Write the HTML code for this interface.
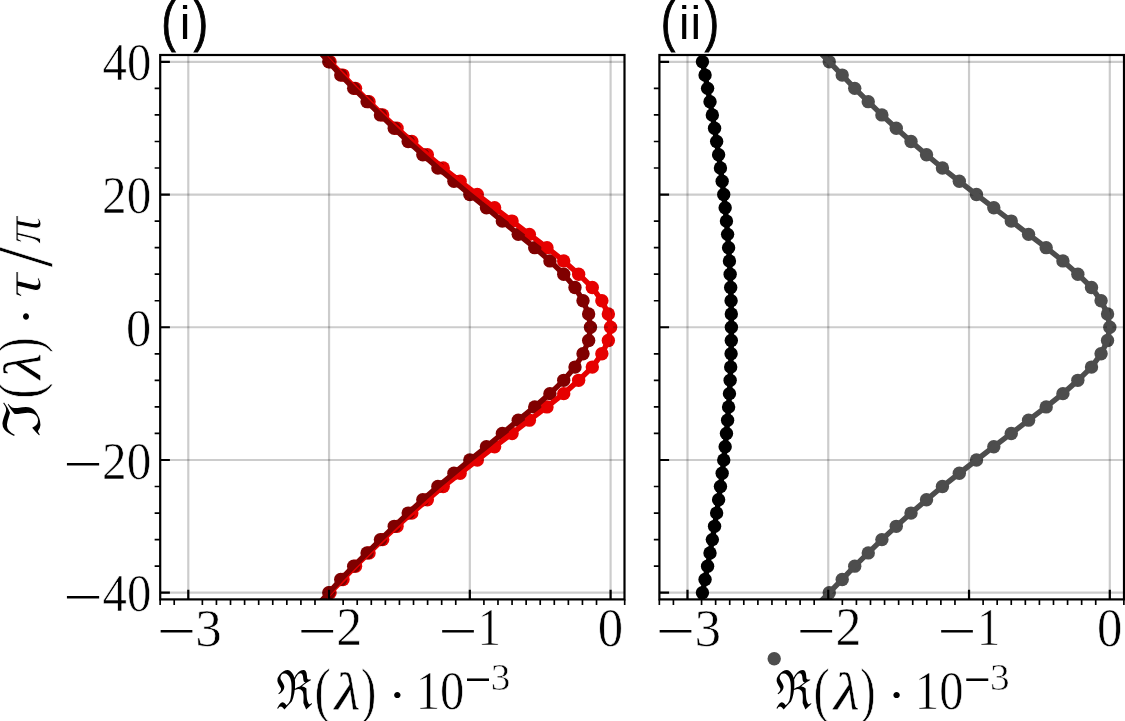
<!DOCTYPE html>
<html><head><meta charset="utf-8"><title>Spectrum plot</title>
<style>html,body{margin:0;padding:0;background:#fff;width:1125px;height:721px;overflow:hidden}svg{display:block}</style>
</head><body>
<svg width="1125" height="721" viewBox="0 0 1125 721">
<defs>
<clipPath id="c0"><rect x="160.2" y="55.0" width="464.3" height="544.4"/></clipPath>
<clipPath id="c1"><rect x="659.4" y="55.0" width="464.6" height="544.4"/></clipPath>
</defs>
<rect width="1125" height="721" fill="#fff"/>
<g clip-path="url(#c0)"><g fill="#e60000"><circle cx="304.14" cy="35.29" r="6.7"/><circle cx="317.09" cy="48.56" r="6.7"/><circle cx="330.05" cy="61.83" r="6.7"/><circle cx="343" cy="75.1" r="6.7"/><circle cx="355.52" cy="88.37" r="6.7"/><circle cx="369.04" cy="101.65" r="6.7"/><circle cx="382.69" cy="114.92" r="6.7"/><circle cx="397.05" cy="128.19" r="6.7"/><circle cx="411.83" cy="141.46" r="6.7"/><circle cx="427.32" cy="154.73" r="6.7"/><circle cx="443.22" cy="168.01" r="6.7"/><circle cx="460.12" cy="181.28" r="6.7"/><circle cx="477.29" cy="194.55" r="6.7"/><circle cx="494.61" cy="207.82" r="6.7"/><circle cx="512.06" cy="221.09" r="6.7"/><circle cx="529.38" cy="234.37" r="6.7"/><circle cx="546.97" cy="247.64" r="6.7"/><circle cx="563.72" cy="260.91" r="6.7"/><circle cx="578.65" cy="274.18" r="6.7"/><circle cx="592.3" cy="287.45" r="6.7"/><circle cx="601.87" cy="300.73" r="6.7"/><circle cx="608.35" cy="314" r="6.7"/><circle cx="610.6" cy="327.27" r="6.7"/><circle cx="608.35" cy="340.54" r="6.7"/><circle cx="601.87" cy="353.81" r="6.7"/><circle cx="592.3" cy="367.09" r="6.7"/><circle cx="578.65" cy="380.36" r="6.7"/><circle cx="563.72" cy="393.63" r="6.7"/><circle cx="546.97" cy="406.9" r="6.7"/><circle cx="529.38" cy="420.17" r="6.7"/><circle cx="512.06" cy="433.45" r="6.7"/><circle cx="494.61" cy="446.72" r="6.7"/><circle cx="477.29" cy="459.99" r="6.7"/><circle cx="460.12" cy="473.26" r="6.7"/><circle cx="443.22" cy="486.53" r="6.7"/><circle cx="427.32" cy="499.81" r="6.7"/><circle cx="411.83" cy="513.08" r="6.7"/><circle cx="397.05" cy="526.35" r="6.7"/><circle cx="382.69" cy="539.62" r="6.7"/><circle cx="369.04" cy="552.89" r="6.7"/><circle cx="355.52" cy="566.17" r="6.7"/><circle cx="343" cy="579.44" r="6.7"/><circle cx="330.05" cy="592.71" r="6.7"/><circle cx="317.09" cy="605.98" r="6.7"/><circle cx="304.14" cy="619.25" r="6.7"/></g><g fill="#800000"><circle cx="304.85" cy="35.29" r="6.7"/><circle cx="316.81" cy="48.56" r="6.7"/><circle cx="328.78" cy="61.83" r="6.7"/><circle cx="340.74" cy="75.1" r="6.7"/><circle cx="353.69" cy="88.37" r="6.7"/><circle cx="367.07" cy="101.65" r="6.7"/><circle cx="380.44" cy="114.92" r="6.7"/><circle cx="394.24" cy="128.19" r="6.7"/><circle cx="408.17" cy="141.46" r="6.7"/><circle cx="422.81" cy="154.73" r="6.7"/><circle cx="437.88" cy="168.01" r="6.7"/><circle cx="453.92" cy="181.28" r="6.7"/><circle cx="469.83" cy="194.55" r="6.7"/><circle cx="486.44" cy="207.82" r="6.7"/><circle cx="502.35" cy="221.09" r="6.7"/><circle cx="518.25" cy="234.37" r="6.7"/><circle cx="534.72" cy="247.64" r="6.7"/><circle cx="549.93" cy="260.91" r="6.7"/><circle cx="563.72" cy="274.18" r="6.7"/><circle cx="574.99" cy="287.45" r="6.7"/><circle cx="583.01" cy="300.73" r="6.7"/><circle cx="588.64" cy="314" r="6.7"/><circle cx="590.47" cy="327.27" r="6.7"/><circle cx="588.64" cy="340.54" r="6.7"/><circle cx="583.01" cy="353.81" r="6.7"/><circle cx="574.99" cy="367.09" r="6.7"/><circle cx="563.72" cy="380.36" r="6.7"/><circle cx="549.93" cy="393.63" r="6.7"/><circle cx="534.72" cy="406.9" r="6.7"/><circle cx="518.25" cy="420.17" r="6.7"/><circle cx="502.35" cy="433.45" r="6.7"/><circle cx="486.44" cy="446.72" r="6.7"/><circle cx="469.83" cy="459.99" r="6.7"/><circle cx="453.92" cy="473.26" r="6.7"/><circle cx="437.88" cy="486.53" r="6.7"/><circle cx="422.81" cy="499.81" r="6.7"/><circle cx="408.17" cy="513.08" r="6.7"/><circle cx="394.24" cy="526.35" r="6.7"/><circle cx="380.44" cy="539.62" r="6.7"/><circle cx="367.07" cy="552.89" r="6.7"/><circle cx="353.69" cy="566.17" r="6.7"/><circle cx="340.74" cy="579.44" r="6.7"/><circle cx="328.78" cy="592.71" r="6.7"/><circle cx="316.81" cy="605.98" r="6.7"/><circle cx="304.85" cy="619.25" r="6.7"/></g></g>
<g clip-path="url(#c1)"><g fill="#000"><circle cx="697.19" cy="35.29" r="6.7"/><circle cx="699.82" cy="48.56" r="6.7"/><circle cx="702.44" cy="61.83" r="6.7"/><circle cx="705.06" cy="75.1" r="6.7"/><circle cx="707.59" cy="88.37" r="6.7"/><circle cx="710.02" cy="101.65" r="6.7"/><circle cx="712.34" cy="114.92" r="6.7"/><circle cx="714.55" cy="128.19" r="6.7"/><circle cx="716.64" cy="141.46" r="6.7"/><circle cx="718.61" cy="154.73" r="6.7"/><circle cx="720.45" cy="168.01" r="6.7"/><circle cx="722.16" cy="181.28" r="6.7"/><circle cx="723.73" cy="194.55" r="6.7"/><circle cx="725.16" cy="207.82" r="6.7"/><circle cx="726.46" cy="221.09" r="6.7"/><circle cx="727.6" cy="234.37" r="6.7"/><circle cx="728.6" cy="247.64" r="6.7"/><circle cx="729.45" cy="260.91" r="6.7"/><circle cx="730.15" cy="274.18" r="6.7"/><circle cx="730.69" cy="287.45" r="6.7"/><circle cx="731.08" cy="300.73" r="6.7"/><circle cx="731.31" cy="314" r="6.7"/><circle cx="731.39" cy="327.27" r="6.7"/><circle cx="731.31" cy="340.54" r="6.7"/><circle cx="731.08" cy="353.81" r="6.7"/><circle cx="730.69" cy="367.09" r="6.7"/><circle cx="730.15" cy="380.36" r="6.7"/><circle cx="729.45" cy="393.63" r="6.7"/><circle cx="728.6" cy="406.9" r="6.7"/><circle cx="727.6" cy="420.17" r="6.7"/><circle cx="726.46" cy="433.45" r="6.7"/><circle cx="725.16" cy="446.72" r="6.7"/><circle cx="723.73" cy="459.99" r="6.7"/><circle cx="722.16" cy="473.26" r="6.7"/><circle cx="720.45" cy="486.53" r="6.7"/><circle cx="718.61" cy="499.81" r="6.7"/><circle cx="716.64" cy="513.08" r="6.7"/><circle cx="714.55" cy="526.35" r="6.7"/><circle cx="712.34" cy="539.62" r="6.7"/><circle cx="710.02" cy="552.89" r="6.7"/><circle cx="707.59" cy="566.17" r="6.7"/><circle cx="705.06" cy="579.44" r="6.7"/><circle cx="702.44" cy="592.71" r="6.7"/><circle cx="699.82" cy="605.98" r="6.7"/><circle cx="697.19" cy="619.25" r="6.7"/></g><g fill="#4d4d4d"><circle cx="803.34" cy="35.29" r="6.7"/><circle cx="816.29" cy="48.56" r="6.7"/><circle cx="829.25" cy="61.83" r="6.7"/><circle cx="842.2" cy="75.1" r="6.7"/><circle cx="854.72" cy="88.37" r="6.7"/><circle cx="868.24" cy="101.65" r="6.7"/><circle cx="881.89" cy="114.92" r="6.7"/><circle cx="896.25" cy="128.19" r="6.7"/><circle cx="911.03" cy="141.46" r="6.7"/><circle cx="926.52" cy="154.73" r="6.7"/><circle cx="942.42" cy="168.01" r="6.7"/><circle cx="959.32" cy="181.28" r="6.7"/><circle cx="976.49" cy="194.55" r="6.7"/><circle cx="993.81" cy="207.82" r="6.7"/><circle cx="1011.26" cy="221.09" r="6.7"/><circle cx="1028.58" cy="234.37" r="6.7"/><circle cx="1046.17" cy="247.64" r="6.7"/><circle cx="1062.92" cy="260.91" r="6.7"/><circle cx="1077.85" cy="274.18" r="6.7"/><circle cx="1091.5" cy="287.45" r="6.7"/><circle cx="1101.07" cy="300.73" r="6.7"/><circle cx="1107.55" cy="314" r="6.7"/><circle cx="1109.8" cy="327.27" r="6.7"/><circle cx="1107.55" cy="340.54" r="6.7"/><circle cx="1101.07" cy="353.81" r="6.7"/><circle cx="1091.5" cy="367.09" r="6.7"/><circle cx="1077.85" cy="380.36" r="6.7"/><circle cx="1062.92" cy="393.63" r="6.7"/><circle cx="1046.17" cy="406.9" r="6.7"/><circle cx="1028.58" cy="420.17" r="6.7"/><circle cx="1011.26" cy="433.45" r="6.7"/><circle cx="993.81" cy="446.72" r="6.7"/><circle cx="976.49" cy="459.99" r="6.7"/><circle cx="959.32" cy="473.26" r="6.7"/><circle cx="942.42" cy="486.53" r="6.7"/><circle cx="926.52" cy="499.81" r="6.7"/><circle cx="911.03" cy="513.08" r="6.7"/><circle cx="896.25" cy="526.35" r="6.7"/><circle cx="881.89" cy="539.62" r="6.7"/><circle cx="868.24" cy="552.89" r="6.7"/><circle cx="854.72" cy="566.17" r="6.7"/><circle cx="842.2" cy="579.44" r="6.7"/><circle cx="829.25" cy="592.71" r="6.7"/><circle cx="816.29" cy="605.98" r="6.7"/><circle cx="803.34" cy="619.25" r="6.7"/></g></g>
<g stroke="#000" stroke-opacity="0.2" stroke-width="2.2" fill="none"><path d="M188.29 55.0V599.4"/><path d="M329.06 55.0V599.4"/><path d="M469.83 55.0V599.4"/><path d="M610.6 55.0V599.4"/><path d="M160.2 592.71H624.5"/><path d="M160.2 459.99H624.5"/><path d="M160.2 327.27H624.5"/><path d="M160.2 194.55H624.5"/><path d="M160.2 61.83H624.5"/></g><g stroke="#000" stroke-opacity="0.2" stroke-width="2.2" fill="none"><path d="M687.49 55.0V599.4"/><path d="M828.26 55.0V599.4"/><path d="M969.03 55.0V599.4"/><path d="M1109.8 55.0V599.4"/><path d="M659.4 592.71H1124.0"/><path d="M659.4 459.99H1124.0"/><path d="M659.4 327.27H1124.0"/><path d="M659.4 194.55H1124.0"/><path d="M659.4 61.83H1124.0"/></g>
<g clip-path="url(#c0)"><polyline points="304.14,35.29 317.09,48.56 330.05,61.83 343,75.1 355.52,88.37 369.04,101.65 382.69,114.92 397.05,128.19 411.83,141.46 427.32,154.73 443.22,168.01 460.12,181.28 477.29,194.55 494.61,207.82 512.06,221.09 529.38,234.37 546.97,247.64 563.72,260.91 578.65,274.18 592.3,287.45 601.87,300.73 608.35,314 610.6,327.27 608.35,340.54 601.87,353.81 592.3,367.09 578.65,380.36 563.72,393.63 546.97,406.9 529.38,420.17 512.06,433.45 494.61,446.72 477.29,459.99 460.12,473.26 443.22,486.53 427.32,499.81 411.83,513.08 397.05,526.35 382.69,539.62 369.04,552.89 355.52,566.17 343,579.44 330.05,592.71 317.09,605.98 304.14,619.25" fill="none" stroke="#e60000" stroke-width="5.4" stroke-linejoin="round" stroke-linecap="butt"/><polyline points="304.85,35.29 316.81,48.56 328.78,61.83 340.74,75.1 353.69,88.37 367.07,101.65 380.44,114.92 394.24,128.19 408.17,141.46 422.81,154.73 437.88,168.01 453.92,181.28 469.83,194.55 486.44,207.82 502.35,221.09 518.25,234.37 534.72,247.64 549.93,260.91 563.72,274.18 574.99,287.45 583.01,300.73 588.64,314 590.47,327.27 588.64,340.54 583.01,353.81 574.99,367.09 563.72,380.36 549.93,393.63 534.72,406.9 518.25,420.17 502.35,433.45 486.44,446.72 469.83,459.99 453.92,473.26 437.88,486.53 422.81,499.81 408.17,513.08 394.24,526.35 380.44,539.62 367.07,552.89 353.69,566.17 340.74,579.44 328.78,592.71 316.81,605.98 304.85,619.25" fill="none" stroke="#800000" stroke-width="5.4" stroke-linejoin="round" stroke-linecap="butt"/></g>
<g clip-path="url(#c1)"><polyline points="697.19,35.29 699.82,48.56 702.44,61.83 705.06,75.1 707.59,88.37 710.02,101.65 712.34,114.92 714.55,128.19 716.64,141.46 718.61,154.73 720.45,168.01 722.16,181.28 723.73,194.55 725.16,207.82 726.46,221.09 727.6,234.37 728.6,247.64 729.45,260.91 730.15,274.18 730.69,287.45 731.08,300.73 731.31,314 731.39,327.27 731.31,340.54 731.08,353.81 730.69,367.09 730.15,380.36 729.45,393.63 728.6,406.9 727.6,420.17 726.46,433.45 725.16,446.72 723.73,459.99 722.16,473.26 720.45,486.53 718.61,499.81 716.64,513.08 714.55,526.35 712.34,539.62 710.02,552.89 707.59,566.17 705.06,579.44 702.44,592.71 699.82,605.98 697.19,619.25" fill="none" stroke="#000" stroke-width="5.4" stroke-linejoin="round" stroke-linecap="butt"/><polyline points="803.34,35.29 816.29,48.56 829.25,61.83 842.2,75.1 854.72,88.37 868.24,101.65 881.89,114.92 896.25,128.19 911.03,141.46 926.52,154.73 942.42,168.01 959.32,181.28 976.49,194.55 993.81,207.82 1011.26,221.09 1028.58,234.37 1046.17,247.64 1062.92,260.91 1077.85,274.18 1091.5,287.45 1101.07,300.73 1107.55,314 1109.8,327.27 1107.55,340.54 1101.07,353.81 1091.5,367.09 1077.85,380.36 1062.92,393.63 1046.17,406.9 1028.58,420.17 1011.26,433.45 993.81,446.72 976.49,459.99 959.32,473.26 942.42,486.53 926.52,499.81 911.03,513.08 896.25,526.35 881.89,539.62 868.24,552.89 854.72,566.17 842.2,579.44 829.25,592.71 816.29,605.98 803.34,619.25" fill="none" stroke="#4d4d4d" stroke-width="5.4" stroke-linejoin="round" stroke-linecap="butt"/></g>
<path d="M188.29 599.4v-9.7M329.06 599.4v-9.7M469.83 599.4v-9.7M610.6 599.4v-9.7M160.2 592.71h9.7M160.2 459.99h9.7M160.2 327.27h9.7M160.2 194.55h9.7M160.2 61.83h9.7" stroke="#000" stroke-width="2.2" fill="none"/><path d="M160.14 599.4v5.56M174.21 599.4v5.56M202.37 599.4v5.56M216.44 599.4v5.56M230.52 599.4v5.56M244.6 599.4v5.56M258.68 599.4v5.56M272.75 599.4v5.56M286.83 599.4v5.56M300.91 599.4v5.56M314.98 599.4v5.56M343.14 599.4v5.56M357.21 599.4v5.56M371.29 599.4v5.56M385.37 599.4v5.56M399.44 599.4v5.56M413.52 599.4v5.56M427.6 599.4v5.56M441.68 599.4v5.56M455.75 599.4v5.56M483.91 599.4v5.56M497.98 599.4v5.56M512.06 599.4v5.56M526.14 599.4v5.56M540.22 599.4v5.56M554.29 599.4v5.56M568.37 599.4v5.56M582.45 599.4v5.56M596.52 599.4v5.56M624.68 599.4v5.56M160.2 566.17h-5.56M160.2 539.62h-5.56M160.2 513.08h-5.56M160.2 486.53h-5.56M160.2 433.45h-5.56M160.2 406.9h-5.56M160.2 380.36h-5.56M160.2 353.81h-5.56M160.2 300.73h-5.56M160.2 274.18h-5.56M160.2 247.64h-5.56M160.2 221.09h-5.56M160.2 168.01h-5.56M160.2 141.46h-5.56M160.2 114.92h-5.56M160.2 88.37h-5.56" stroke="#000" stroke-width="1.67" fill="none"/><path d="M687.49 599.4v-9.7M828.26 599.4v-9.7M969.03 599.4v-9.7M1109.8 599.4v-9.7M659.4 592.71h9.7M659.4 459.99h9.7M659.4 327.27h9.7M659.4 194.55h9.7M659.4 61.83h9.7" stroke="#000" stroke-width="2.2" fill="none"/><path d="M659.34 599.4v5.56M673.41 599.4v5.56M701.57 599.4v5.56M715.64 599.4v5.56M729.72 599.4v5.56M743.8 599.4v5.56M757.88 599.4v5.56M771.95 599.4v5.56M786.03 599.4v5.56M800.11 599.4v5.56M814.18 599.4v5.56M842.34 599.4v5.56M856.41 599.4v5.56M870.49 599.4v5.56M884.57 599.4v5.56M898.64 599.4v5.56M912.72 599.4v5.56M926.8 599.4v5.56M940.88 599.4v5.56M954.95 599.4v5.56M983.11 599.4v5.56M997.18 599.4v5.56M1011.26 599.4v5.56M1025.34 599.4v5.56M1039.41 599.4v5.56M1053.49 599.4v5.56M1067.57 599.4v5.56M1081.65 599.4v5.56M1095.72 599.4v5.56M1123.88 599.4v5.56M659.4 566.17h-5.56M659.4 539.62h-5.56M659.4 513.08h-5.56M659.4 486.53h-5.56M659.4 433.45h-5.56M659.4 406.9h-5.56M659.4 380.36h-5.56M659.4 353.81h-5.56M659.4 300.73h-5.56M659.4 274.18h-5.56M659.4 247.64h-5.56M659.4 221.09h-5.56M659.4 168.01h-5.56M659.4 141.46h-5.56M659.4 114.92h-5.56M659.4 88.37h-5.56" stroke="#000" stroke-width="1.67" fill="none"/>
<rect x="160.2" y="55.0" width="464.3" height="544.4" fill="none" stroke="#000" stroke-width="2.2" stroke-linejoin="miter"/><rect x="659.4" y="55.0" width="464.6" height="544.4" fill="none" stroke="#000" stroke-width="2.2" stroke-linejoin="miter"/>
<circle cx="774.2" cy="658.7" r="6.7" fill="#4d4d4d"/>
<g fill="#000"><text transform="matrix(0.4881,0.0000,0.0000,0.5378,102.5239,80.3922)" stroke="#fff" stroke-width="1.171" style="font-family:'Liberation Serif', serif;font-size:100px">40</text><text transform="matrix(0.4926,0.0000,0.0000,0.5378,102.0831,213.1122)" stroke="#fff" stroke-width="1.166" style="font-family:'Liberation Serif', serif;font-size:100px">20</text><text transform="matrix(0.5059,0.0000,0.0000,0.5378,126.1029,345.8322)" stroke="#fff" stroke-width="1.150" style="font-family:'Liberation Serif', serif;font-size:100px">0</text><text transform="matrix(0.6925,0.0000,0.0000,0.5000,63.3376,481.4650)" style="font-family:'Liberation Serif', serif;font-size:100px">−</text><text transform="matrix(0.4926,0.0000,0.0000,0.5378,102.0831,478.5522)" stroke="#fff" stroke-width="1.166" style="font-family:'Liberation Serif', serif;font-size:100px">20</text><text transform="matrix(0.6925,0.0000,0.0000,0.5000,63.3376,614.1850)" style="font-family:'Liberation Serif', serif;font-size:100px">−</text><text transform="matrix(0.4881,0.0000,0.0000,0.5378,102.5239,611.2722)" stroke="#fff" stroke-width="1.171" style="font-family:'Liberation Serif', serif;font-size:100px">40</text><text transform="matrix(0.6817,0.0000,0.0000,0.5000,156.8814,648.4750)" style="font-family:'Liberation Serif', serif;font-size:100px">−</text><text transform="matrix(0.5309,0.0000,0.0000,0.5353,195.1782,645.6647)" stroke="#fff" stroke-width="1.125" style="font-family:'Liberation Serif', serif;font-size:100px">3</text><text transform="matrix(0.6817,0.0000,0.0000,0.5000,297.6514,648.4750)" style="font-family:'Liberation Serif', serif;font-size:100px">−</text><text transform="matrix(0.5200,0.0000,0.0000,0.5389,336.2600,645.3000)" stroke="#fff" stroke-width="1.133" style="font-family:'Liberation Serif', serif;font-size:100px">2</text><text transform="matrix(0.6817,0.0000,0.0000,0.5000,438.4214,648.4750)" style="font-family:'Liberation Serif', serif;font-size:100px">−</text><text transform="matrix(0.4624,0.0000,0.0000,0.5348,477.8539,645.3000)" stroke="#fff" stroke-width="1.206" style="font-family:'Liberation Serif', serif;font-size:100px">1</text><text transform="matrix(0.5082,0.0000,0.0000,0.5467,597.6941,645.9533)" stroke="#fff" stroke-width="1.138" style="font-family:'Liberation Serif', serif;font-size:100px">0</text><text transform="matrix(0.3824,0.0000,0.0000,0.4862,274.2407,708.1415)" style="font-family:'DejaVu Math TeX Gyre', 'DejaVu Sans', sans-serif;font-size:100px">ℜ</text><text transform="matrix(0.4863,0.0000,0.0000,0.6122,314.4118,710.7917)" stroke="#fff" stroke-width="1.100" style="font-family:'Liberation Serif', serif;font-size:100px">(</text><text transform="matrix(0.5896,0.0000,0.0000,0.5348,334.8240,709.4500)" stroke="#fff" stroke-width="0.534" style="font-family:'Liberation Serif', serif;font-style:italic;font-size:100px">λ</text><text transform="matrix(0.4583,0.0000,0.0000,0.6122,361.0107,710.7917)" stroke="#fff" stroke-width="1.133" style="font-family:'Liberation Serif', serif;font-size:100px">)</text><text transform="matrix(0.5447,0.0000,0.0000,0.5106,388.3447,711.9149)" style="font-family:'Liberation Serif', serif;font-size:100px">·</text><text transform="matrix(0.4869,0.0000,0.0000,0.5393,415.6400,708.8607)" stroke="#fff" stroke-width="1.171" style="font-family:'Liberation Serif', serif;font-size:100px">10</text><text transform="matrix(0.4731,0.0000,0.0000,0.5200,464.4344,696.6900)" style="font-family:'Liberation Serif', serif;font-size:100px">−</text><text transform="matrix(0.3927,0.0000,0.0000,0.3807,490.8345,690.1193)" stroke="#fff" stroke-width="1.552" style="font-family:'Liberation Serif', serif;font-size:100px">3</text><text transform="matrix(0.6817,0.0000,0.0000,0.5000,656.0814,648.4750)" style="font-family:'Liberation Serif', serif;font-size:100px">−</text><text transform="matrix(0.5309,0.0000,0.0000,0.5353,694.3782,645.6647)" stroke="#fff" stroke-width="1.125" style="font-family:'Liberation Serif', serif;font-size:100px">3</text><text transform="matrix(0.6817,0.0000,0.0000,0.5000,796.8514,648.4750)" style="font-family:'Liberation Serif', serif;font-size:100px">−</text><text transform="matrix(0.5200,0.0000,0.0000,0.5389,835.4600,645.3000)" stroke="#fff" stroke-width="1.133" style="font-family:'Liberation Serif', serif;font-size:100px">2</text><text transform="matrix(0.6817,0.0000,0.0000,0.5000,937.6214,648.4750)" style="font-family:'Liberation Serif', serif;font-size:100px">−</text><text transform="matrix(0.4624,0.0000,0.0000,0.5348,977.0539,645.3000)" stroke="#fff" stroke-width="1.206" style="font-family:'Liberation Serif', serif;font-size:100px">1</text><text transform="matrix(0.5082,0.0000,0.0000,0.5467,1096.8941,645.9533)" stroke="#fff" stroke-width="1.138" style="font-family:'Liberation Serif', serif;font-size:100px">0</text><text transform="matrix(0.3824,0.0000,0.0000,0.4862,773.4407,708.1415)" style="font-family:'DejaVu Math TeX Gyre', 'DejaVu Sans', sans-serif;font-size:100px">ℜ</text><text transform="matrix(0.4863,0.0000,0.0000,0.6122,813.6118,710.7917)" stroke="#fff" stroke-width="1.100" style="font-family:'Liberation Serif', serif;font-size:100px">(</text><text transform="matrix(0.5896,0.0000,0.0000,0.5348,834.0240,709.4500)" stroke="#fff" stroke-width="0.534" style="font-family:'Liberation Serif', serif;font-style:italic;font-size:100px">λ</text><text transform="matrix(0.4583,0.0000,0.0000,0.6122,860.2107,710.7917)" stroke="#fff" stroke-width="1.133" style="font-family:'Liberation Serif', serif;font-size:100px">)</text><text transform="matrix(0.5447,0.0000,0.0000,0.5106,887.5447,711.9149)" style="font-family:'Liberation Serif', serif;font-size:100px">·</text><text transform="matrix(0.4869,0.0000,0.0000,0.5393,914.8400,708.8607)" stroke="#fff" stroke-width="1.171" style="font-family:'Liberation Serif', serif;font-size:100px">10</text><text transform="matrix(0.4731,0.0000,0.0000,0.5200,963.6344,696.6900)" style="font-family:'Liberation Serif', serif;font-size:100px">−</text><text transform="matrix(0.3927,0.0000,0.0000,0.3807,990.0345,690.1193)" stroke="#fff" stroke-width="1.552" style="font-family:'Liberation Serif', serif;font-size:100px">3</text><text transform="matrix(0.0000,-0.5791,0.4677,0.0000,38.5969,440.4330)" style="font-family:'DejaVu Math TeX Gyre', 'DejaVu Sans', sans-serif;font-size:100px">ℑ</text><text transform="matrix(0.0000,-0.4863,0.6199,0.0000,39.6273,398.7882)" stroke="#fff" stroke-width="1.093" style="font-family:'Liberation Serif', serif;font-size:100px">(</text><text transform="matrix(0.0000,-0.5919,0.5362,0.0000,40.1500,378.9702)" stroke="#fff" stroke-width="0.533" style="font-family:'Liberation Serif', serif;font-style:italic;font-size:100px">λ</text><text transform="matrix(0.0000,-0.4583,0.6199,0.0000,39.6273,352.6893)" stroke="#fff" stroke-width="1.126" style="font-family:'Liberation Serif', serif;font-size:100px">)</text><text transform="matrix(0.0000,-0.5447,0.5021,0.0000,42.8830,325.5553)" style="font-family:'Liberation Serif', serif;font-size:100px">·</text><text transform="matrix(0.0000,-0.6986,0.5277,0.0000,39.6223,298.3219)" stroke="#fff" stroke-width="1.482" style="font-family:'Liberation Serif', serif;font-style:italic;font-size:100px">τ</text><text transform="matrix(0.0000,-0.7532,0.8209,0.0000,51.3791,267.3000)" stroke="#fff" stroke-width="0.763" style="font-family:'Liberation Serif', serif;font-size:100px">/</text><text transform="matrix(0.0000,-0.5430,0.5340,0.0000,39.9160,243.7215)" stroke="#fff" stroke-width="1.671" style="font-family:'Liberation Serif', serif;font-style:italic;font-size:100px">π</text><text transform="matrix(0.4267,0.0000,0.0000,0.5523,161.4833,39.6902)" stroke="#000" stroke-width="1.854" style="font-family:'Liberation Sans', sans-serif;font-size:100px">(</text><text transform="matrix(0.4800,0.0000,0.0000,0.4703,179.6600,38.7000)" style="font-family:'Liberation Sans', sans-serif;font-size:100px">i</text><text transform="matrix(0.4267,0.0000,0.0000,0.5523,193.8300,39.6902)" stroke="#000" stroke-width="1.854" style="font-family:'Liberation Sans', sans-serif;font-size:100px">)</text><text transform="matrix(0.4267,0.0000,0.0000,0.5523,660.9833,39.6902)" stroke="#000" stroke-width="1.854" style="font-family:'Liberation Sans', sans-serif;font-size:100px">(</text><text transform="matrix(0.4686,0.0000,0.0000,0.4703,678.9371,38.7000)" style="font-family:'Liberation Sans', sans-serif;font-size:100px">i</text><text transform="matrix(0.4800,0.0000,0.0000,0.4703,690.4600,38.7000)" style="font-family:'Liberation Sans', sans-serif;font-size:100px">i</text><text transform="matrix(0.4267,0.0000,0.0000,0.5523,704.6300,39.6902)" stroke="#000" stroke-width="1.854" style="font-family:'Liberation Sans', sans-serif;font-size:100px">)</text></g>
</svg>
</body></html>
